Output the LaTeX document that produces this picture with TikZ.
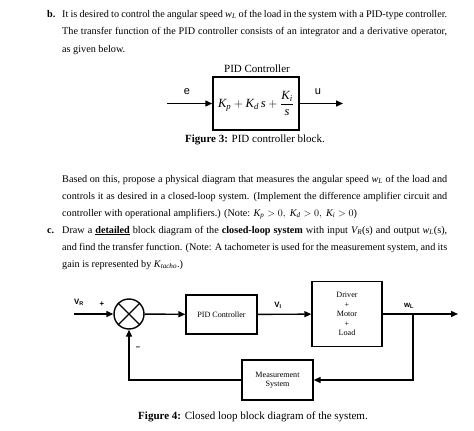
\documentclass[tikz,border=0pt]{standalone}
\usepackage{fontspec}
\setmainfont{Liberation Serif}
\setsansfont{Liberation Sans}
\usetikzlibrary{arrows.meta}
\usetikzlibrary{positioning}

\newcommand{\qv}[2]{$\mathit{#1}_{\mathit{#2}}$}
\newcommand{\jline}[1]{\hbox to 385pt{#1}}

\tikzset{
  txt/.style={anchor=base west,inner sep=0pt,font=\fontsize{10.2}{12}\selectfont},
  capt/.style={anchor=base,inner sep=0pt,font=\fontsize{11}{13}\selectfont},
  blk/.style={draw,line width=1.3pt,inner sep=0pt,align=center,
      font=\fontsize{8.1}{9.5}\selectfont},
  sig/.style={inner sep=0pt,font=\sffamily\bfseries\fontsize{7.8}{9}\selectfont},
  flow/.style={line width=1.4pt,-{Triangle[length=7pt,width=6pt]}}
}

\begin{document}
\begin{tikzpicture}[x=1pt,y=-1pt]
  \useasboundingbox (0,0) rectangle (474,431);

  % part b
  \node[txt,font=\bfseries\fontsize{10.2}{12}\selectfont] (b_lbl) at (47,17) {b.};
  \node[txt] (b_1) at (62,17)
    {\jline{It is desired to control the angular speed \qv{w}{L} of the load in the system with a PID-type controller.}};
  \node[txt] (b_2) at (62,34.5)
    {\jline{The transfer function of the PID controller consists of an integrator and a derivative operator,}};
  \node[txt] (b_3) at (62,52) {as given below.};

  % Figure 3
  \node[anchor=base,inner sep=0pt,font=\fontsize{11}{13}\selectfont] (t_3) at (257,72) {PID Controller};
  \node[draw,line width=1.5pt,minimum width=86pt,minimum height=53pt,inner sep=0pt,
      font=\fontsize{12.5}{14}\selectfont] (pid_3) at (256,103.5)
    {$\displaystyle\mathit{K}_{\mathit{p}}+\mathit{K}_{\mathit{d}}\,\mathit{s}+\frac{\mathit{K}_{\mathit{i}}}{\mathit{s}}$};
  \coordinate (e_in) at (167,103.5);
  \coordinate (u_out) at (343,103.5);
  \draw[flow] (e_in) -- (pid_3);
  \draw[flow] (pid_3) -- (u_out);
  \node[font=\sffamily\fontsize{11}{13}\selectfont] (e_lbl) at (187,92) {e};
  \node[font=\sffamily\fontsize{11}{13}\selectfont] (u_lbl) at (318,92) {u};
  \node[capt] (c_3) at (255,142) {\textbf{Figure 3:} PID controller block.};

  % text between the figures
  \node[txt] (p_1) at (62,182)
    {\jline{Based on this, propose a physical diagram that measures the angular speed \qv{w}{L} of the load and}};
  \node[txt] (p_2) at (62,199)
    {\jline{controls it as desired in a closed-loop system. (Implement the difference amplifier circuit and}};
  \node[txt] (p_3) at (62,216)
    {controller with operational amplifiers.) (Note: $\mathit{K}_{\mathit{p}}>0,\ \mathit{K}_{\mathit{d}}>0,\ \mathit{K}_{\mathit{i}}>0$)};

  % part c
  \node[txt,font=\bfseries\fontsize{10.2}{12}\selectfont] (c_lbl) at (47,233) {c.};
  \node[txt] (c_1) at (62,233)
    {\jline{Draw a \underline{\textbf{detailed}} block diagram of the \textbf{closed-loop system} with input \qv{V}{R}(s) and output \qv{w}{L}(s),}};
  \node[txt] (c_2) at (62,250)
    {\jline{and find the transfer function. (Note: A tachometer is used for the measurement system, and its}};
  \node[txt] (c_3) at (62,267) {gain is represented by \qv{K}{tacho}.)};

  % Figure 4
  \node[circle,draw,line width=1.4pt,minimum size=30pt,inner sep=0pt] (sum_4) at (129,314) {};
  \draw[line width=1.4pt] (sum_4.north west) -- (sum_4.south east)
                          (sum_4.north east) -- (sum_4.south west);
  \node[blk,minimum width=71pt,minimum height=39pt] (pid_4) at (221.5,314.5) {PID Controller};
  \node[blk,minimum width=70pt,minimum height=65pt] (plant_4) at (347,314) {Driver\\+\\Motor\\+\\Load};
  \node[blk,minimum width=71pt,minimum height=40pt] (meas_4) at (277.5,380) {Measurement\\System};

  \coordinate (v_in) at (74,314);
  \coordinate (tap) at (413,314);
  \coordinate (w_out) at (458,314);
  \draw[flow] (v_in) -- (sum_4);
  \draw[flow] (sum_4) -- (pid_4);
  \draw[flow] (pid_4) -- (plant_4);
  \draw[flow] (plant_4) -- (w_out);
  \draw[flow] (tap) |- (meas_4);
  \draw[flow] (meas_4) -| (sum_4);

  \node[sig] (vr_lbl) at (79,302) {V\textsubscript{R}};
  \node[sig] (plus_lbl) at (102,304) {+};
  \node[sig] (minus_lbl) at (138,348) {--};
  \node[sig] (vi_lbl) at (278,305) {V\textsubscript{I}};
  \node[sig] (wl_lbl) at (409,306) {w\textsubscript{L}};

  \node[capt] (c_4) at (253,419) {\textbf{Figure 4:} Closed loop block diagram of the system.};
\end{tikzpicture}
\end{document}
